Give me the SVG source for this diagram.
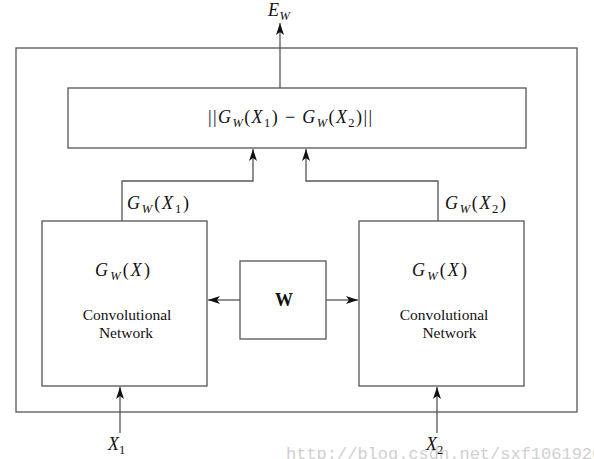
<svg xmlns="http://www.w3.org/2000/svg" width="594" height="459" viewBox="0 0 594 459">
<style>
.box{fill:#fff;stroke:#555;stroke-width:1.3}
.ln{fill:none;stroke:#555;stroke-width:1.3}
.m{font-family:"Liberation Serif",serif;font-size:18px;fill:#111}
.i{font-style:italic}
.s{font-size:12.5px}
.t{font-family:"Liberation Serif",serif;font-size:15.5px;fill:#111;text-anchor:middle}
.wm{font-family:"Liberation Mono",monospace;font-size:17px;fill:#d0d0d0}
</style>
<defs>
<marker id="ah" viewBox="0 0 12 8" refX="12" refY="4" markerWidth="12" markerHeight="8" markerUnits="userSpaceOnUse" orient="auto">
<path d="M0,0 L12,4 L0,8 L3,4 Z" fill="#111"/>
</marker>
</defs>
<text class="wm" x="286" y="459">http://blog.csdn.net/sxf1061926</text>
<g id="frame"><rect class="box" x="16" y="48" width="561" height="364" fill="none"/></g>
<g id="connectors">
<line class="ln" x1="280" y1="88" x2="280" y2="23" marker-end="url(#ah)"/>
<polyline class="ln" points="122,221 122,181 253,181 253,149" marker-end="url(#ah)"/>
<polyline class="ln" points="438,221 438,181 306,181 306,149" marker-end="url(#ah)"/>
<line class="ln" x1="240" y1="300" x2="208" y2="300" marker-end="url(#ah)"/>
<line class="ln" x1="326" y1="300" x2="358" y2="300" marker-end="url(#ah)"/>
<line class="ln" x1="120" y1="433" x2="120" y2="387" marker-end="url(#ah)"/>
<line class="ln" x1="437" y1="433" x2="437" y2="387" marker-end="url(#ah)"/>
</g>
<g id="ew"><text class="m" x="268" y="16"><tspan class="i">E</tspan><tspan class="i s" dx="0.5" dy="4">W</tspan></text></g>
<g id="distance">
<rect class="box" x="68" y="88" width="458" height="60"/>
<text class="m" x="208" y="123" textLength="164">||<tspan class="i">G</tspan><tspan class="i s" dy="4">W</tspan><tspan dy="-4">(</tspan><tspan class="i">X</tspan><tspan class="s" dy="4">1</tspan><tspan dy="-4">) − </tspan><tspan class="i">G</tspan><tspan class="i s" dy="4">W</tspan><tspan dy="-4">(</tspan><tspan class="i">X</tspan><tspan class="s" dy="4">2</tspan><tspan dy="-4">)||</tspan></text>
</g>
<g id="net1">
<rect class="box" x="42" y="221" width="165" height="165"/>
<text class="m" x="95" y="276" textLength="55"><tspan class="i">G</tspan><tspan class="i s" dy="4">W</tspan><tspan dy="-4">(</tspan><tspan class="i">X</tspan>)</text>
<text class="t" x="127" y="320">Convolutional</text>
<text class="t" x="126" y="338">Network</text>
</g>
<g id="net2">
<rect class="box" x="359" y="221" width="165" height="165"/>
<text class="m" x="412" y="276" textLength="55"><tspan class="i">G</tspan><tspan class="i s" dy="4">W</tspan><tspan dy="-4">(</tspan><tspan class="i">X</tspan>)</text>
<text class="t" x="444" y="320">Convolutional</text>
<text class="t" x="449.5" y="338">Network</text>
</g>
<g id="w">
<rect class="box" x="240" y="261" width="86" height="78"/>
<text x="284" y="306" style="font-family:'Liberation Serif',serif;font-size:18px;font-weight:bold;fill:#111;text-anchor:middle">W</text>
</g>
<g id="labels">
<text class="m" x="127" y="209" textLength="62"><tspan class="i">G</tspan><tspan class="i s" dy="4">W</tspan><tspan dy="-4">(</tspan><tspan class="i">X</tspan><tspan class="s" dy="4">1</tspan><tspan dy="-4">)</tspan></text>
<text class="m" x="445" y="209" textLength="61"><tspan class="i">G</tspan><tspan class="i s" dy="4">W</tspan><tspan dy="-4">(</tspan><tspan class="i">X</tspan><tspan class="s" dy="4">2</tspan><tspan dy="-4">)</tspan></text>
<text class="m" x="108" y="450"><tspan class="i">X</tspan><tspan class="s" dy="4">1</tspan></text>
<text class="m" x="426" y="450"><tspan class="i">X</tspan><tspan class="s" dy="4">2</tspan></text>
</g>
</svg>
